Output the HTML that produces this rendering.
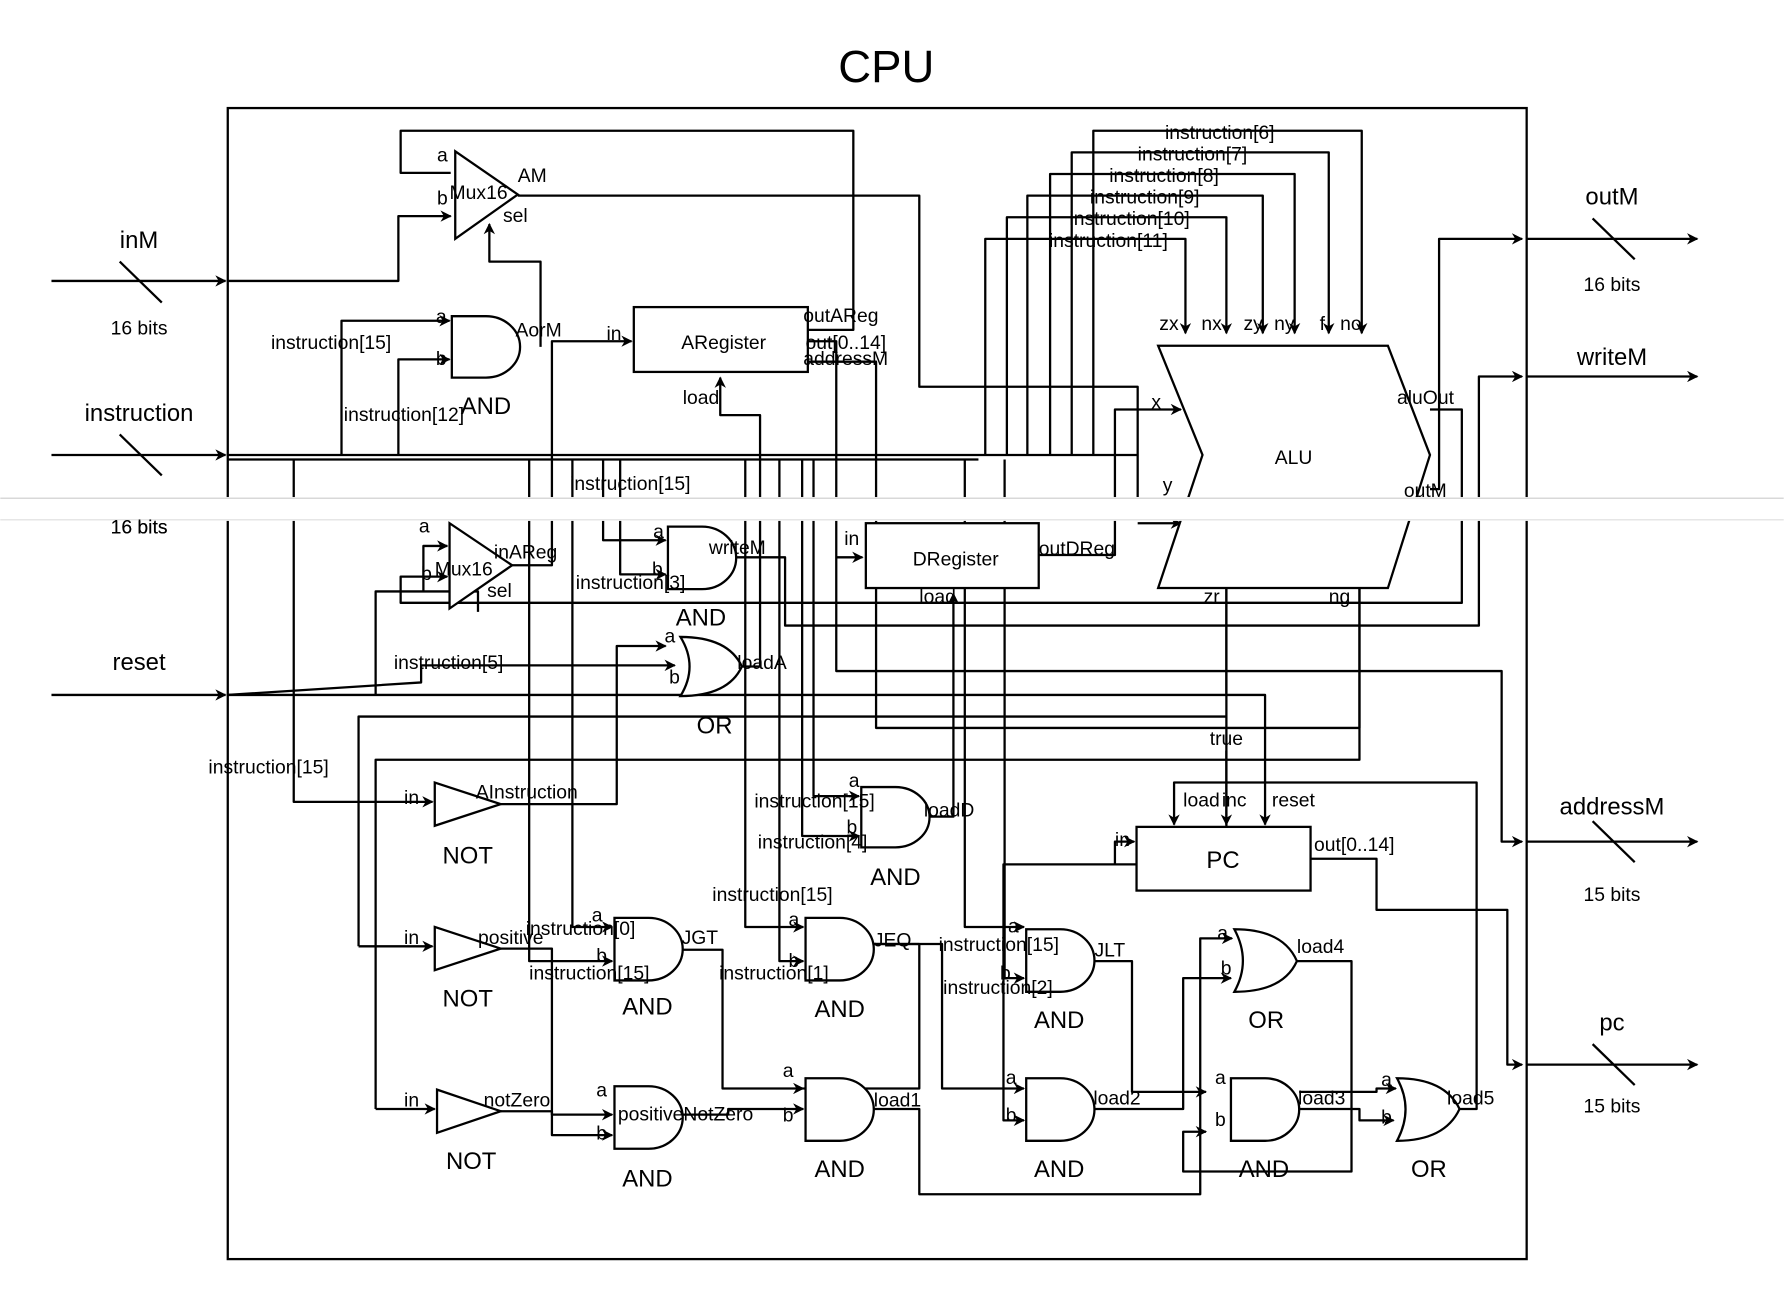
<!DOCTYPE html>
<html><head><meta charset="utf-8"><style>
html,body{margin:0;padding:0;background:#fff;}
svg{display:block;}
text{font-family:"Liberation Sans",sans-serif;font-size:17px;fill:#000;}
.w{fill:none;stroke:#000;stroke-width:2;stroke-linejoin:round;}
.g{fill:#fff;stroke:#000;stroke-width:2;}
.c{text-anchor:middle;}
</style></head><body>
<svg width="1784" height="1308" viewBox="0 0 1568 1150" xmlns="http://www.w3.org/2000/svg">
<defs><marker id="a" markerWidth="10" markerHeight="10" refX="9" refY="5" orient="auto" markerUnits="userSpaceOnUse"><path d="M0,0 L10,5 L0,10 L3,5 z" fill="#000"/></marker></defs>
<rect width="1568" height="1150" fill="#fff"/>
<text x="779" y="72" class="c" style="font-size:40px">CPU</text>
<rect x="200" y="95" width="1142" height="1012" fill="none" stroke="#000" stroke-width="2"/>

<!-- inputs -->
<path class="w" d="M45 247H198" marker-end="url(#a)"/><path class="w" d="M105 230L142 266"/>
<text x="122" y="218" class="c" style="font-size:21px">inM</text><text x="122" y="294" class="c">16 bits</text>
<path class="w" d="M45 400H198" marker-end="url(#a)"/><path class="w" d="M105 382L142 418"/>
<text x="122" y="370" class="c" style="font-size:21px">instruction</text><text x="122" y="469" class="c">16 bits</text>
<path class="w" d="M45 611H198" marker-end="url(#a)"/>
<text x="122" y="589" class="c" style="font-size:21px">reset</text>
<!-- outputs -->
<path class="w" d="M1342 210H1492" marker-end="url(#a)"/><path class="w" d="M1400 192L1437 228"/>
<text x="1417" y="180" class="c" style="font-size:21px">outM</text><text x="1417" y="256" class="c">16 bits</text>
<path class="w" d="M1342 331H1492" marker-end="url(#a)"/>
<text x="1417" y="321" class="c" style="font-size:21px">writeM</text>
<path class="w" d="M1342 740H1492" marker-end="url(#a)"/><path class="w" d="M1400 722L1437 758"/>
<text x="1417" y="716" class="c" style="font-size:21px">addressM</text><text x="1417" y="792" class="c">15 bits</text>
<path class="w" d="M1342 936H1492" marker-end="url(#a)"/><path class="w" d="M1400 918L1437 954"/>
<text x="1417" y="906" class="c" style="font-size:21px">pc</text><text x="1417" y="978" class="c">15 bits</text>

<!-- wires -->
<g class="w">
<path d="M200 247H350V190H396" marker-end="url(#a)"/>
<path d="M396 152H352V115H750V290H710"/>
<path d="M455 172H808V340H1000V437" />
<path d="M1000 460H1038" marker-end="url(#a)"/>
<path d="M475 305V230H430V197" marker-end="url(#a)"/>
<path d="M200 400H1000"/>
<path d="M200 404H860"/>
<path d="M300 400V282H395" marker-end="url(#a)"/>
<path d="M350 400V316H395" marker-end="url(#a)"/>
<path d="M866 400V210H1042V293" marker-end="url(#a)"/>
<path d="M885 400V191H1078V293" marker-end="url(#a)"/>
<path d="M903 400V172H1110V293" marker-end="url(#a)"/>
<path d="M923 400V153H1138V293" marker-end="url(#a)"/>
<path d="M942 400V134H1168V293" marker-end="url(#a)"/>
<path d="M961 400V115H1197V293" marker-end="url(#a)"/>
<path d="M913 488H980V360H1038" marker-end="url(#a)"/>
<path d="M450 497H485V300H555" marker-end="url(#a)"/>
<path d="M710 300H735V590H1320V740H1338" marker-end="url(#a)"/>
<path d="M710 318H770V640H1195V320"/>
<path d="M652 586H668V365H633V332" marker-end="url(#a)"/>
<path d="M1257 430H1265V210H1338" marker-end="url(#a)"/>
<path d="M1257 360H1285V530H352V507H393" marker-end="url(#a)"/>
<path d="M647 490H690V550H1300V331H1338" marker-end="url(#a)"/>
<path d="M735 490H758" marker-end="url(#a)"/>
<path d="M817 718H838V522" marker-end="url(#a)"/>
<path d="M200 611H1112V725" marker-end="url(#a)"/>
<path d="M330 611V520H420V538" />
<path d="M200 611L370 600V585H593" marker-end="url(#a)"/>
<path d="M1152 755H1210V800H1325V936H1338" marker-end="url(#a)"/>
<path d="M1078 660V725" marker-end="url(#a)"/>
<path d="M1078 517V610"/>
<path d="M1283 975H1298V688H1032V725" marker-end="url(#a)"/>
<path d="M980 760V740H997" marker-end="url(#a)"/>
<path d="M258 404V705H380" marker-end="url(#a)"/>
<path d="M315 832V630H1078"/>
<path d="M315 832H380" marker-end="url(#a)"/>
<path d="M330 975V668H1195V517"/>
<path d="M330 975H382" marker-end="url(#a)"/>
<path d="M440 707H542V568H585" marker-end="url(#a)"/>
<path d="M440 834H485V980H538" marker-end="url(#a)"/>
<path d="M440 977H485V998H538" marker-end="url(#a)"/>
<path d="M600 980H640V975H706" marker-end="url(#a)"/>
<path d="M600 835H635V957H706" marker-end="url(#a)"/>
<path d="M768 830H808V957H706" />
<path d="M768 830H828V957H900" marker-end="url(#a)"/>
<path d="M962 845H995V960H1060" marker-end="url(#a)"/>
<path d="M962 975H1040V860H1082" marker-end="url(#a)"/>
<path d="M1140 845H1188V1030H1040V995H1060" marker-end="url(#a)"/>
<path d="M768 975H808V1050H1055V825H1083" marker-end="url(#a)"/>
<path d="M1142 975H1195V985H1225" marker-end="url(#a)"/>
<path d="M1142 960H1210V957H1227" marker-end="url(#a)"/>
<path d="M503 404V815H538" marker-end="url(#a)"/>
<path d="M465 404V845H538" marker-end="url(#a)"/>
<path d="M655 404V815H706" marker-end="url(#a)"/>
<path d="M685 404V845H706" marker-end="url(#a)"/>
<path d="M715 404V700H755" marker-end="url(#a)"/>
<path d="M705 404V735H755" marker-end="url(#a)"/>
<path d="M848 404V815H900" marker-end="url(#a)"/>
<path d="M883 404V860H900" marker-end="url(#a)"/>
<path d="M1078 517V760H882V985H900" marker-end="url(#a)"/>
<path d="M545 404V505H585" marker-end="url(#a)"/>
<path d="M530 404V475H585" marker-end="url(#a)"/>
<path d="M372 520V480H393" marker-end="url(#a)"/>
</g>

<!-- components -->
<path class="g" d="M400 133L400 210L455 171Z"/>
<text x="384" y="142">a</text><text x="384" y="180">b</text><text x="395" y="175">Mux16</text><text x="455" y="160">AM</text><text x="442" y="195">sel</text>
<path class="g" d="M397 278H427A30 27 0 0 1 427 332H397Z"/>
<text x="383" y="284">a</text><text x="383" y="321">b</text><text x="453" y="296">AorM</text><text x="427" y="364" class="c" style="font-size:21px">AND</text>
<text x="238" y="307">instruction[15]</text><text x="302" y="370">instruction[12]</text>
<rect class="g" x="557" y="270" width="153" height="57"/>
<text x="636" y="307" class="c">ARegister</text><text x="533" y="299">in</text><text x="600" y="355">load</text>
<text x="706" y="283">outAReg</text><text x="708" y="307">out[0..14]</text><text x="706" y="321">addressM</text>
<path class="g" d="M1018 304H1220L1257 400L1220 517H1018L1057 400Z"/>
<text x="1137" y="408" class="c">ALU</text>
<text x="1019" y="290">zx</text><text x="1056" y="290">nx</text><text x="1093" y="290">zy</text><text x="1120" y="290">ny</text><text x="1160" y="290">f</text><text x="1178" y="290">no</text>
<text x="1012" y="359">x</text><text x="1022" y="432">y</text><text x="1228" y="355">aluOut</text><text x="1234" y="437">outM</text>
<text x="1058" y="530">zr</text><text x="1168" y="530">ng</text>
<text x="1024" y="122">instruction[6]</text><text x="1000" y="141">instruction[7]</text><text x="975" y="160">instruction[8]</text><text x="958" y="179">instruction[9]</text><text x="940" y="198">instruction[10]</text><text x="922" y="217">instruction[11]</text>
<text x="501" y="431">instruction[15]</text>

<!-- seam band -->
<rect x="0" y="437" width="1568" height="21" fill="#fff"/>
<line x1="0" y1="438" x2="1568" y2="438" stroke="#ccc"/><line x1="0" y1="457" x2="1568" y2="457" stroke="#ddd"/>
<text x="122" y="469" class="c">16 bits</text>

<path class="g" d="M395 460L395 535L450 497Z"/>
<text x="368" y="468">a</text><text x="370" y="510">b</text><text x="382" y="506">Mux16</text><text x="434" y="491">inAReg</text><text x="428" y="525">sel</text>
<rect class="g" x="761" y="460" width="152" height="57"/>
<text x="840" y="497" class="c">DRegister</text><text x="742" y="479">in</text><text x="808" y="530">load</text><text x="913" y="488">outDReg</text>
<path class="g" d="M587 463H617A30 27.5 0 0 1 617 518H587Z"/>
<text x="574" y="473">a</text><text x="573" y="506">b</text><text x="623" y="487">writeM</text><text x="506" y="518">instruction[3]</text><text x="616" y="550" class="c" style="font-size:21px">AND</text>
<path class="g" d="M598 560Q614 586 598 612Q640 612 652 586Q640 560 598 560Z"/>
<text x="584" y="565">a</text><text x="588" y="601">b</text><text x="648" y="588">loadA</text><text x="628" y="645" class="c" style="font-size:21px">OR</text>
<text x="346" y="588">instruction[5]</text><text x="183" y="680">instruction[15]</text>

<path class="g" d="M382 688L382 726L440 707Z"/><text x="355" y="707">in</text><text x="418" y="702">AInstruction</text><text x="411" y="759" class="c" style="font-size:21px">NOT</text>
<path class="g" d="M382 815L382 853L440 834Z"/><text x="355" y="830">in</text><text x="420" y="830">positive</text><text x="411" y="885" class="c" style="font-size:21px">NOT</text>
<path class="g" d="M384 958L384 996L440 977Z"/><text x="355" y="973">in</text><text x="425" y="973">notZero</text><text x="414" y="1028" class="c" style="font-size:21px">NOT</text>

<path class="g" d="M757 692H787A30 26.5 0 0 1 787 745H757Z"/>
<text x="746" y="692">a</text><text x="744" y="733">b</text><text x="812" y="718">loadD</text><text x="663" y="710">instruction[15]</text><text x="666" y="746">instruction[4]</text><text x="787" y="778" class="c" style="font-size:21px">AND</text>

<path class="g" d="M540 807H570A30 27.5 0 0 1 570 862H540Z"/>
<text x="520" y="810">a</text><text x="524" y="846">b</text><text x="599" y="830">JGT</text><text x="462" y="822">instruction[0]</text><text x="465" y="861">instruction[15]</text><text x="569" y="892" class="c" style="font-size:21px">AND</text>
<path class="g" d="M708 807H738A30 27.5 0 0 1 738 862H708Z"/>
<text x="693" y="814">a</text><text x="693" y="850">b</text><text x="768" y="832">JEQ</text><text x="626" y="792">instruction[15]</text><text x="632" y="861">instruction[1]</text><text x="738" y="894" class="c" style="font-size:21px">AND</text>
<path class="g" d="M902 817H932A30 27.5 0 0 1 932 872H902Z"/>
<text x="886" y="820">a</text><text x="879" y="861">b</text><text x="962" y="841">JLT</text><text x="825" y="836">instruction[15]</text><text x="829" y="874">instruction[2]</text><text x="931" y="904" class="c" style="font-size:21px">AND</text>
<path class="g" d="M1085 817Q1100 845 1085 872Q1128 872 1140 845Q1128 817 1085 817Z"/>
<text x="1070" y="826">a</text><text x="1073" y="857">b</text><text x="1140" y="838">load4</text><text x="1113" y="904" class="c" style="font-size:21px">OR</text>

<path class="g" d="M540 955H570A30 27.5 0 0 1 570 1010H540Z"/>
<text x="524" y="964">a</text><text x="524" y="1002">b</text><text x="543" y="985">positiveNotZero</text><text x="569" y="1043" class="c" style="font-size:21px">AND</text>
<path class="g" d="M708 948H738A30 27.5 0 0 1 738 1003H708Z"/>
<text x="688" y="947">a</text><text x="688" y="986">b</text><text x="768" y="973">load1</text><text x="738" y="1035" class="c" style="font-size:21px">AND</text>
<path class="g" d="M902 948H932A30 27.5 0 0 1 932 1003H902Z"/>
<text x="884" y="953">a</text><text x="884" y="986">b</text><text x="961" y="971">load2</text><text x="931" y="1035" class="c" style="font-size:21px">AND</text>
<path class="g" d="M1082 948H1112A30 27.5 0 0 1 1112 1003H1082Z"/>
<text x="1068" y="953">a</text><text x="1068" y="990">b</text><text x="1141" y="971">load3</text><text x="1111" y="1035" class="c" style="font-size:21px">AND</text>
<path class="g" d="M1228 948Q1243 975 1228 1003Q1270 1003 1283 975Q1270 948 1228 948Z"/>
<text x="1214" y="955">a</text><text x="1214" y="988">b</text><text x="1272" y="971">load5</text><text x="1256" y="1035" class="c" style="font-size:21px">OR</text>

<rect class="g" x="999" y="727" width="153" height="56"/>
<text x="1075" y="763" class="c" style="font-size:21px">PC</text>
<text x="980" y="744">in</text><text x="1040" y="709">load</text><text x="1074" y="709">inc</text><text x="1118" y="709">reset</text><text x="1155" y="748">out[0..14]</text>
<text x="1078" y="655" class="c">true</text>
</svg>
</body></html>
